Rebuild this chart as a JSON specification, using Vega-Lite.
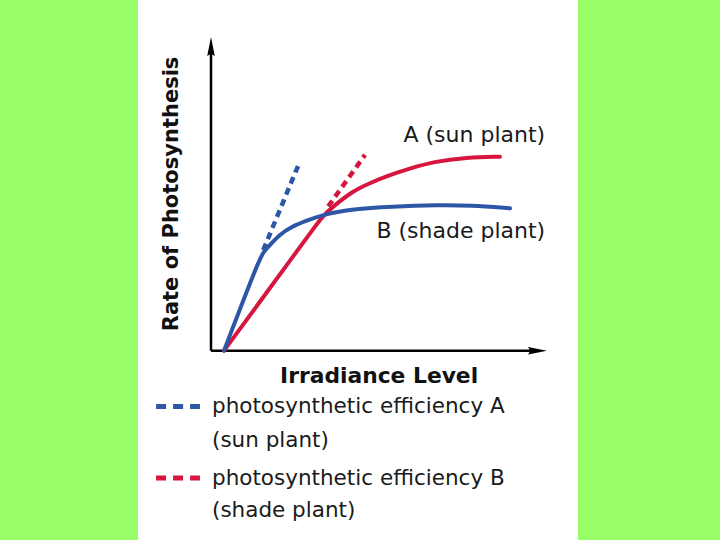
{
  "$schema": "https://vega.github.io/schema/vega-lite/v6.json",
  "width": 440,
  "height": 540,
  "autosize": {"type": "none"},
  "padding": {"left": 138, "top": 0, "right": 142, "bottom": 0},
  "background": "#99ff66",
  "view": {"fill": "white", "stroke": null},
  "config": {"font": "DejaVu Sans"},
  "datasets": {
    "curves": [
      {"plant": "A", "irr": 3.88, "rate": 0},
      {"plant": "A", "irr": 26.58, "rate": 33.41},
      {"plant": "A", "irr": 31.06, "rate": 40.02},
      {"plant": "A", "irr": 33.54, "rate": 43.57},
      {"plant": "A", "irr": 37.03, "rate": 46.95},
      {"plant": "A", "irr": 42.41, "rate": 51.46},
      {"plant": "A", "irr": 47.48, "rate": 54.04},
      {"plant": "A", "irr": 53.46, "rate": 56.62},
      {"plant": "A", "irr": 59.43, "rate": 58.71},
      {"plant": "A", "irr": 66.3, "rate": 60.9},
      {"plant": "A", "irr": 76.36, "rate": 62.32},
      {"plant": "A", "irr": 86.3, "rate": 62.51},
      {"plant": "B", "irr": 3.88, "rate": 0},
      {"plant": "B", "irr": 14.04, "rate": 28.58},
      {"plant": "B", "irr": 15.83, "rate": 32.13},
      {"plant": "B", "irr": 17.62, "rate": 34.06},
      {"plant": "B", "irr": 20.61, "rate": 37.44},
      {"plant": "B", "irr": 23.59, "rate": 39.7},
      {"plant": "B", "irr": 28.58, "rate": 41.95},
      {"plant": "B", "irr": 33.54, "rate": 43.89},
      {"plant": "B", "irr": 42.41, "rate": 45.66},
      {"plant": "B", "irr": 53.46, "rate": 46.46},
      {"plant": "B", "irr": 68.39, "rate": 46.95},
      {"plant": "B", "irr": 77.35, "rate": 46.79},
      {"plant": "B", "irr": 89.3, "rate": 45.89}
    ],
    "efficiency": [
      {"plant": "B", "irr": 15.6, "rate": 32.4},
      {"plant": "B", "irr": 26.1, "rate": 59.8},
      {"plant": "A", "irr": 35.0, "rate": 46.5},
      {"plant": "A", "irr": 46.0, "rate": 63.1}
    ],
    "axes": [
      {"axis": "x", "x1": 0, "x2": 96.5, "y1": 0, "y2": 0},
      {"axis": "y", "x1": 0, "x2": 0, "y1": 0, "y2": 97.0}
    ],
    "arrows": [
      {"axis": "x", "irr": 97.5, "rate": 0},
      {"axis": "y", "irr": 0, "rate": 98.0}
    ],
    "curveLabels": [
      {"text": "A (sun plant)", "irr": 99.8, "rate": 67.35},
      {"text": "B (shade plant)", "irr": 99.8, "rate": 36.2}
    ],
    "legendKeys": [
      {"plant": "B", "x1": -16.4, "x2": -3.3, "y": -18.0},
      {"plant": "A", "x1": -16.4, "x2": -3.3, "y": -41.0}
    ],
    "legendText": [
      {"text": "photosynthetic efficiency A", "irr": 0.3, "rate": -20.2},
      {"text": "(sun plant)", "irr": 0.3, "rate": -31.1},
      {"text": "photosynthetic efficiency B", "irr": 0.3, "rate": -43.3},
      {"text": "(shade plant)", "irr": 0.3, "rate": -53.5}
    ],
    "xTitle": [{"text": "Irradiance Level", "irr": 50.2, "rate": -10.5}],
    "yTitle": [{"text": "Rate of Photosynthesis", "irr": -9.85, "rate": 50.5}]
  },
  "layer": [
    {
      "data": {"name": "axes"},
      "mark": {"type": "rule", "color": "black", "strokeWidth": 2.5},
      "encoding": {
        "x": {"field": "x1", "type": "quantitative", "scale": {"domain": [-21.8, 109.6], "nice": false, "zero": false}, "axis": null},
        "x2": {"field": "x2"},
        "y": {"field": "y1", "type": "quantitative", "scale": {"domain": [-61, 113], "nice": false, "zero": false}, "axis": null},
        "y2": {"field": "y2"}
      }
    },
    {
      "data": {"name": "arrows"},
      "mark": {"type": "point", "filled": true, "color": "black", "opacity": 1, "size": 361},
      "encoding": {
        "x": {"field": "irr", "type": "quantitative", "axis": null},
        "y": {"field": "rate", "type": "quantitative", "axis": null},
        "shape": {"field": "axis", "type": "nominal", "legend": null,
          "scale": {"domain": ["x", "y"], "range": ["M1,0L-1,0.4L-0.75,0L-1,-0.4Z", "M0,-1L0.4,1L0,0.75L-0.4,1Z"]}}
      }
    },
    {
      "data": {"name": "curves"},
      "mark": {"type": "line", "strokeWidth": 4, "interpolate": "basis", "strokeCap": "round"},
      "encoding": {
        "x": {"field": "irr", "type": "quantitative", "axis": null},
        "y": {"field": "rate", "type": "quantitative", "axis": null},
        "color": {"field": "plant", "type": "nominal", "legend": null,
          "scale": {"domain": ["A", "B"], "range": ["#d6163e", "#2e56a6"]}}
      }
    },
    {
      "data": {"name": "efficiency"},
      "mark": {"type": "line", "strokeWidth": 4.5, "strokeDash": [7, 5]},
      "encoding": {
        "x": {"field": "irr", "type": "quantitative", "axis": null},
        "y": {"field": "rate", "type": "quantitative", "axis": null},
        "color": {"field": "plant", "type": "nominal", "legend": null}
      }
    },
    {
      "data": {"name": "legendKeys"},
      "mark": {"type": "rule", "strokeWidth": 5, "strokeDash": [10, 7]},
      "encoding": {
        "x": {"field": "x1", "type": "quantitative", "axis": null},
        "x2": {"field": "x2"},
        "y": {"field": "y", "type": "quantitative", "axis": null},
        "color": {"field": "plant", "type": "nominal", "legend": null}
      }
    },
    {
      "data": {"name": "curveLabels"},
      "mark": {"type": "text", "align": "right", "baseline": "alphabetic", "fontSize": 22, "color": "#1a1a1a"},
      "encoding": {
        "x": {"field": "irr", "type": "quantitative", "axis": null},
        "y": {"field": "rate", "type": "quantitative", "axis": null},
        "text": {"field": "text"}
      }
    },
    {
      "data": {"name": "legendText"},
      "mark": {"type": "text", "align": "left", "baseline": "alphabetic", "fontSize": 21.5, "color": "#1a1a1a"},
      "encoding": {
        "x": {"field": "irr", "type": "quantitative", "axis": null},
        "y": {"field": "rate", "type": "quantitative", "axis": null},
        "text": {"field": "text"}
      }
    },
    {
      "data": {"name": "xTitle"},
      "mark": {"type": "text", "align": "center", "baseline": "alphabetic", "fontSize": 21.8, "fontWeight": "bold", "color": "#111111"},
      "encoding": {
        "x": {"field": "irr", "type": "quantitative", "axis": null},
        "y": {"field": "rate", "type": "quantitative", "axis": null},
        "text": {"field": "text"}
      }
    },
    {
      "data": {"name": "yTitle"},
      "mark": {"type": "text", "align": "center", "baseline": "alphabetic", "angle": 270, "fontSize": 21, "fontWeight": "bold", "color": "#111111"},
      "encoding": {
        "x": {"field": "irr", "type": "quantitative", "axis": null},
        "y": {"field": "rate", "type": "quantitative", "axis": null},
        "text": {"field": "text"}
      }
    }
  ]
}
